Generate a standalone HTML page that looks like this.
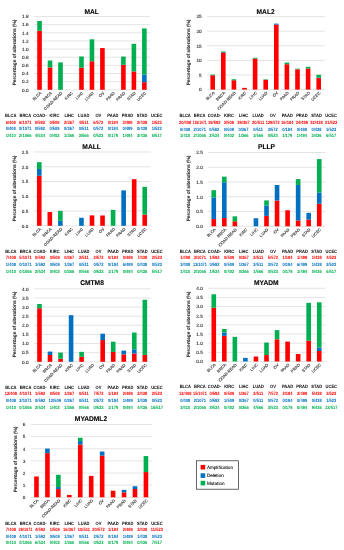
<!DOCTYPE html>
<html><head><meta charset="utf-8"><title>Alterations</title>
<style>
html,body{margin:0;padding:0;background:#fff;}
body{width:344px;height:550px;overflow:hidden;}
svg{display:block;font-family:'Liberation Sans', Arial, sans-serif;text-rendering:geometricPrecision;}
.gl{stroke:#D9D9D9;stroke-width:0.7;}
.tk{font-size:4.7px;fill:#262626;stroke:#262626;stroke-width:0.1;text-anchor:end;}
.xl{font-size:4.0px;fill:#404040;stroke:#404040;stroke-width:0.15;text-anchor:end;}
.tt{font-size:7.0px;font-weight:bold;fill:#000;text-anchor:middle;stroke:#000;stroke-width:0.12;}
.yl{font-size:4.78px;font-weight:bold;fill:#262626;stroke:#262626;stroke-width:0.08;text-anchor:middle;}
.th,.tr,.tb,.tg{font-size:4.6px;font-weight:bold;text-anchor:middle;}
.th{fill:#000;}
.tr{fill:#FF0000;}
.tb{fill:#0070C0;}
.tg{fill:#00B050;}
.lg{font-size:4.6px;fill:#000;stroke:#000;stroke-width:0.08;}
</style></head>
<body>
<svg width="344" height="550" viewBox="0 0 344 550">
<rect width="344" height="550" fill="#fff"/>
<line x1="34.1" y1="89.8" x2="150.3" y2="89.8" class="gl"/>
<text x="28.6" y="91.6" class="tk">0.0</text>
<line x1="34.1" y1="81.66" x2="150.3" y2="81.66" class="gl"/>
<text x="28.6" y="83.46" class="tk">0.2</text>
<line x1="34.1" y1="73.51" x2="150.3" y2="73.51" class="gl"/>
<text x="28.6" y="75.31" class="tk">0.4</text>
<line x1="34.1" y1="65.37" x2="150.3" y2="65.37" class="gl"/>
<text x="28.6" y="67.17" class="tk">0.6</text>
<line x1="34.1" y1="57.22" x2="150.3" y2="57.22" class="gl"/>
<text x="28.6" y="59.02" class="tk">0.8</text>
<line x1="34.1" y1="49.08" x2="150.3" y2="49.08" class="gl"/>
<text x="28.6" y="50.88" class="tk">1.0</text>
<line x1="34.1" y1="40.93" x2="150.3" y2="40.93" class="gl"/>
<text x="28.6" y="42.73" class="tk">1.2</text>
<line x1="34.1" y1="32.79" x2="150.3" y2="32.79" class="gl"/>
<text x="28.6" y="34.59" class="tk">1.4</text>
<line x1="34.1" y1="24.64" x2="150.3" y2="24.64" class="gl"/>
<text x="28.6" y="26.44" class="tk">1.6</text>
<line x1="34.1" y1="16.5" x2="150.3" y2="16.5" class="gl"/>
<text x="28.6" y="18.3" class="tk">1.8</text>
<rect x="37.24" y="30.75" width="4.6" height="59.05" fill="#FF0000"/>
<rect x="37.24" y="20.98" width="4.6" height="9.77" fill="#00B050"/>
<text class="xl" transform="translate(41.64 93.4) rotate(-45)">BLCA</text>
<rect x="47.72" y="67.4" width="4.6" height="22.4" fill="#FF0000"/>
<rect x="47.72" y="60.48" width="4.6" height="6.92" fill="#00B050"/>
<text class="xl" transform="translate(52.12 93.4) rotate(-45)">BRCA</text>
<rect x="58.2" y="62.38" width="4.6" height="27.42" fill="#00B050"/>
<text class="xl" transform="translate(62.6 93.4) rotate(-45)">COAD-READ</text>
<text class="xl" transform="translate(73.09 93.4) rotate(-45)">KIRC</text>
<rect x="79.17" y="67.61" width="4.6" height="22.19" fill="#FF0000"/>
<rect x="79.17" y="56.48" width="4.6" height="11.13" fill="#00B050"/>
<text class="xl" transform="translate(83.57 93.4) rotate(-45)">LIHC</text>
<rect x="89.65" y="61.29" width="4.6" height="28.51" fill="#FF0000"/>
<rect x="89.65" y="39.3" width="4.6" height="21.99" fill="#00B050"/>
<text class="xl" transform="translate(94.05 93.4) rotate(-45)">LUAD</text>
<rect x="100.13" y="48.06" width="4.6" height="41.74" fill="#FF0000"/>
<text class="xl" transform="translate(104.53 93.4) rotate(-45)">OV</text>
<text class="xl" transform="translate(115.01 93.4) rotate(-45)">PAAD</text>
<rect x="121.1" y="64.82" width="4.6" height="24.98" fill="#FF0000"/>
<rect x="121.1" y="56.57" width="4.6" height="8.24" fill="#00B050"/>
<text class="xl" transform="translate(125.5 93.4) rotate(-45)">PRAD</text>
<rect x="131.58" y="71.47" width="4.6" height="18.32" fill="#FF0000"/>
<rect x="131.58" y="43.78" width="4.6" height="27.69" fill="#00B050"/>
<text class="xl" transform="translate(135.98 93.4) rotate(-45)">STAD</text>
<rect x="142.06" y="82.18" width="4.6" height="7.62" fill="#FF0000"/>
<rect x="142.06" y="74.45" width="4.6" height="7.74" fill="#0070C0"/>
<rect x="142.06" y="28.43" width="4.6" height="46.02" fill="#00B050"/>
<text class="xl" transform="translate(146.46 93.4) rotate(-45)">UCEC</text>
<text class="tt" transform="translate(91.6 13.5) scale(0.95 1)">MAL</text>
<text class="yl" transform="translate(15.9 52.5) rotate(-90)">Percentage of alterations (%)</text>
<text class="th" transform="translate(10.7 116.7) scale(0.88 1)">BLCA</text>
<text class="tr" transform="translate(10.7 123.7) scale(0.88 1)">6/408</text>
<text class="tb" transform="translate(10.7 130.3) scale(0.88 1)">0/408</text>
<text class="tg" transform="translate(10.7 136.9) scale(0.88 1)">1/410</text>
<text class="th" transform="translate(25.3 116.7) scale(0.88 1)">BRCA</text>
<text class="tr" transform="translate(25.3 123.7) scale(0.88 1)">6/1071</text>
<text class="tb" transform="translate(25.3 130.3) scale(0.88 1)">0/1071</text>
<text class="tg" transform="translate(25.3 136.9) scale(0.88 1)">2/1066</text>
<text class="th" transform="translate(39.9 116.7) scale(0.88 1)">COAD-</text>
<text class="tr" transform="translate(39.9 123.7) scale(0.88 1)">0/592</text>
<text class="tb" transform="translate(39.9 130.3) scale(0.88 1)">0/592</text>
<text class="tg" transform="translate(39.9 136.9) scale(0.88 1)">4/534</text>
<text class="th" transform="translate(54.5 116.7) scale(0.88 1)">KIRC</text>
<text class="tr" transform="translate(54.5 123.7) scale(0.88 1)">0/509</text>
<text class="tb" transform="translate(54.5 130.3) scale(0.88 1)">0/509</text>
<text class="tg" transform="translate(54.5 136.9) scale(0.88 1)">0/402</text>
<text class="th" transform="translate(69.1 116.7) scale(0.88 1)">LIHC</text>
<text class="tr" transform="translate(69.1 123.7) scale(0.88 1)">2/367</text>
<text class="tb" transform="translate(69.1 130.3) scale(0.88 1)">0/367</text>
<text class="tg" transform="translate(69.1 136.9) scale(0.88 1)">1/366</text>
<text class="th" transform="translate(83.7 116.7) scale(0.88 1)">LUAD</text>
<text class="tr" transform="translate(83.7 123.7) scale(0.88 1)">4/511</text>
<text class="tb" transform="translate(83.7 130.3) scale(0.88 1)">0/511</text>
<text class="tg" transform="translate(83.7 136.9) scale(0.88 1)">3/566</text>
<text class="th" transform="translate(98.3 116.7) scale(0.88 1)">OV</text>
<text class="tr" transform="translate(98.3 123.7) scale(0.88 1)">6/572</text>
<text class="tb" transform="translate(98.3 130.3) scale(0.88 1)">0/572</text>
<text class="tg" transform="translate(98.3 136.9) scale(0.88 1)">0/523</text>
<text class="th" transform="translate(112.9 116.7) scale(0.88 1)">PAAD</text>
<text class="tr" transform="translate(112.9 123.7) scale(0.88 1)">0/184</text>
<text class="tb" transform="translate(112.9 130.3) scale(0.88 1)">0/184</text>
<text class="tg" transform="translate(112.9 136.9) scale(0.88 1)">0/179</text>
<text class="th" transform="translate(127.5 116.7) scale(0.88 1)">PRAD</text>
<text class="tr" transform="translate(127.5 123.7) scale(0.88 1)">3/489</text>
<text class="tb" transform="translate(127.5 130.3) scale(0.88 1)">0/489</text>
<text class="tg" transform="translate(127.5 136.9) scale(0.88 1)">1/494</text>
<text class="th" transform="translate(142.1 116.7) scale(0.88 1)">STAD</text>
<text class="tr" transform="translate(142.1 123.7) scale(0.88 1)">2/438</text>
<text class="tb" transform="translate(142.1 130.3) scale(0.88 1)">0/438</text>
<text class="tg" transform="translate(142.1 136.9) scale(0.88 1)">3/436</text>
<text class="th" transform="translate(156.7 116.7) scale(0.88 1)">UCEC</text>
<text class="tr" transform="translate(156.7 123.7) scale(0.88 1)">1/523</text>
<text class="tb" transform="translate(156.7 130.3) scale(0.88 1)">1/523</text>
<text class="tg" transform="translate(156.7 136.9) scale(0.88 1)">6/517</text>
<line x1="207.2" y1="89.6" x2="324.7" y2="89.6" class="gl"/>
<text x="201.7" y="91.4" class="tk">0</text>
<line x1="207.2" y1="75" x2="324.7" y2="75" class="gl"/>
<text x="201.7" y="76.8" class="tk">5</text>
<line x1="207.2" y1="60.4" x2="324.7" y2="60.4" class="gl"/>
<text x="201.7" y="62.2" class="tk">10</text>
<line x1="207.2" y1="45.8" x2="324.7" y2="45.8" class="gl"/>
<text x="201.7" y="47.6" class="tk">15</text>
<line x1="207.2" y1="31.2" x2="324.7" y2="31.2" class="gl"/>
<text x="201.7" y="33" class="tk">20</text>
<line x1="207.2" y1="16.6" x2="324.7" y2="16.6" class="gl"/>
<text x="201.7" y="18.4" class="tk">25</text>
<rect x="210.4" y="75.29" width="4.6" height="14.31" fill="#FF0000"/>
<rect x="210.4" y="74.57" width="4.6" height="0.71" fill="#00B050"/>
<text class="xl" transform="translate(214.8 93.2) rotate(-45)">BLCA</text>
<rect x="221" y="52.52" width="4.6" height="37.08" fill="#FF0000"/>
<rect x="221" y="51.98" width="4.6" height="0.55" fill="#0070C0"/>
<rect x="221" y="51.43" width="4.6" height="0.55" fill="#00B050"/>
<text class="xl" transform="translate(225.4 93.2) rotate(-45)">BRCA</text>
<rect x="231.6" y="80.23" width="4.6" height="9.37" fill="#FF0000"/>
<rect x="231.6" y="79.25" width="4.6" height="0.98" fill="#00B050"/>
<text class="xl" transform="translate(236 93.2) rotate(-45)">COAD-READ</text>
<rect x="242.2" y="87.88" width="4.6" height="1.72" fill="#FF0000"/>
<text class="xl" transform="translate(246.6 93.2) rotate(-45)">KIRC</text>
<rect x="252.8" y="58.57" width="4.6" height="31.03" fill="#FF0000"/>
<rect x="252.8" y="57.77" width="4.6" height="0.8" fill="#00B050"/>
<text class="xl" transform="translate(257.2 93.2) rotate(-45)">LIHC</text>
<rect x="263.4" y="79.82" width="4.6" height="9.78" fill="#FF0000"/>
<rect x="263.4" y="79.32" width="4.6" height="0.5" fill="#00B050"/>
<text class="xl" transform="translate(267.8 93.2) rotate(-45)">LUAD</text>
<rect x="274" y="24.63" width="4.6" height="64.97" fill="#FF0000"/>
<rect x="274" y="23.61" width="4.6" height="1.02" fill="#0070C0"/>
<text class="xl" transform="translate(278.4 93.2) rotate(-45)">OV</text>
<rect x="284.6" y="64.21" width="4.6" height="25.39" fill="#FF0000"/>
<rect x="284.6" y="62.58" width="4.6" height="1.63" fill="#00B050"/>
<text class="xl" transform="translate(289 93.2) rotate(-45)">PAAD</text>
<rect x="295.2" y="69.3" width="4.6" height="20.3" fill="#FF0000"/>
<rect x="295.2" y="68.71" width="4.6" height="0.59" fill="#00B050"/>
<text class="xl" transform="translate(299.6 93.2) rotate(-45)">PRAD</text>
<rect x="305.8" y="68.58" width="4.6" height="21.02" fill="#FF0000"/>
<rect x="305.8" y="66.82" width="4.6" height="1.75" fill="#00B050"/>
<text class="xl" transform="translate(310.2 93.2) rotate(-45)">STAD</text>
<rect x="316.4" y="78.07" width="4.6" height="11.53" fill="#FF0000"/>
<rect x="316.4" y="77.51" width="4.6" height="0.55" fill="#0070C0"/>
<rect x="316.4" y="74.8" width="4.6" height="2.72" fill="#00B050"/>
<text class="xl" transform="translate(320.8 93.2) rotate(-45)">UCEC</text>
<text class="tt" transform="translate(265.6 13.5) scale(0.95 1)">MAL2</text>
<text class="yl" transform="translate(190.1 52.5) rotate(-90)">Percentage of alterations (%)</text>
<text class="th" transform="translate(185.1 116.9) scale(0.88 1)">BLCA</text>
<text class="tr" transform="translate(185.1 123.9) scale(0.88 1)">20/408</text>
<text class="tb" transform="translate(185.1 130.6) scale(0.88 1)">0/408</text>
<text class="tg" transform="translate(185.1 137.1) scale(0.88 1)">1/410</text>
<text class="th" transform="translate(199.7 116.9) scale(0.88 1)">BRCA</text>
<text class="tr" transform="translate(199.7 123.9) scale(0.72 1)">136/1071</text>
<text class="tb" transform="translate(199.7 130.6) scale(0.88 1)">2/1071</text>
<text class="tg" transform="translate(199.7 137.1) scale(0.88 1)">2/1066</text>
<text class="th" transform="translate(214.3 116.9) scale(0.88 1)">COAD-</text>
<text class="tr" transform="translate(214.3 123.9) scale(0.88 1)">19/592</text>
<text class="tb" transform="translate(214.3 130.6) scale(0.88 1)">0/592</text>
<text class="tg" transform="translate(214.3 137.1) scale(0.88 1)">2/534</text>
<text class="th" transform="translate(228.9 116.9) scale(0.88 1)">KIRC</text>
<text class="tr" transform="translate(228.9 123.9) scale(0.88 1)">3/509</text>
<text class="tb" transform="translate(228.9 130.6) scale(0.88 1)">0/509</text>
<text class="tg" transform="translate(228.9 137.1) scale(0.88 1)">0/402</text>
<text class="th" transform="translate(243.5 116.9) scale(0.88 1)">LIHC</text>
<text class="tr" transform="translate(243.5 123.9) scale(0.88 1)">39/367</text>
<text class="tb" transform="translate(243.5 130.6) scale(0.88 1)">0/367</text>
<text class="tg" transform="translate(243.5 137.1) scale(0.88 1)">1/366</text>
<text class="th" transform="translate(258.1 116.9) scale(0.88 1)">LUAD</text>
<text class="tr" transform="translate(258.1 123.9) scale(0.88 1)">20/511</text>
<text class="tb" transform="translate(258.1 130.6) scale(0.88 1)">0/511</text>
<text class="tg" transform="translate(258.1 137.1) scale(0.88 1)">1/566</text>
<text class="th" transform="translate(272.7 116.9) scale(0.88 1)">OV</text>
<text class="tr" transform="translate(272.7 123.9) scale(0.83 1)">129/572</text>
<text class="tb" transform="translate(272.7 130.6) scale(0.88 1)">3/572</text>
<text class="tg" transform="translate(272.7 137.1) scale(0.88 1)">0/523</text>
<text class="th" transform="translate(287.3 116.9) scale(0.88 1)">PAAD</text>
<text class="tr" transform="translate(287.3 123.9) scale(0.88 1)">16/184</text>
<text class="tb" transform="translate(287.3 130.6) scale(0.88 1)">0/184</text>
<text class="tg" transform="translate(287.3 137.1) scale(0.88 1)">1/179</text>
<text class="th" transform="translate(301.9 116.9) scale(0.88 1)">PRAD</text>
<text class="tr" transform="translate(301.9 123.9) scale(0.88 1)">34/489</text>
<text class="tb" transform="translate(301.9 130.6) scale(0.88 1)">0/489</text>
<text class="tg" transform="translate(301.9 137.1) scale(0.88 1)">1/494</text>
<text class="th" transform="translate(316.5 116.9) scale(0.88 1)">STAD</text>
<text class="tr" transform="translate(316.5 123.9) scale(0.88 1)">32/438</text>
<text class="tb" transform="translate(316.5 130.6) scale(0.88 1)">0/438</text>
<text class="tg" transform="translate(316.5 137.1) scale(0.88 1)">3/436</text>
<text class="th" transform="translate(331.1 116.9) scale(0.88 1)">UCEC</text>
<text class="tr" transform="translate(331.1 123.9) scale(0.88 1)">21/523</text>
<text class="tb" transform="translate(331.1 130.6) scale(0.88 1)">1/523</text>
<text class="tg" transform="translate(331.1 137.1) scale(0.88 1)">6/517</text>
<line x1="33.8" y1="225.8" x2="150.7" y2="225.8" class="gl"/>
<text x="28.3" y="227.6" class="tk">0.0</text>
<line x1="33.8" y1="211.04" x2="150.7" y2="211.04" class="gl"/>
<text x="28.3" y="212.84" class="tk">0.5</text>
<line x1="33.8" y1="196.28" x2="150.7" y2="196.28" class="gl"/>
<text x="28.3" y="198.08" class="tk">1.0</text>
<line x1="33.8" y1="181.52" x2="150.7" y2="181.52" class="gl"/>
<text x="28.3" y="183.32" class="tk">1.5</text>
<line x1="33.8" y1="166.76" x2="150.7" y2="166.76" class="gl"/>
<text x="28.3" y="168.56" class="tk">2.0</text>
<line x1="33.8" y1="152" x2="150.7" y2="152" class="gl"/>
<text x="28.3" y="153.8" class="tk">2.5</text>
<rect x="36.97" y="175.76" width="4.6" height="50.04" fill="#FF0000"/>
<rect x="36.97" y="168.97" width="4.6" height="6.79" fill="#0070C0"/>
<rect x="36.97" y="162.18" width="4.6" height="6.79" fill="#00B050"/>
<text class="xl" transform="translate(41.37 229.4) rotate(-45)">BLCA</text>
<rect x="47.52" y="212.02" width="4.6" height="13.78" fill="#FF0000"/>
<text class="xl" transform="translate(51.92 229.4) rotate(-45)">BRCA</text>
<rect x="58.06" y="220.81" width="4.6" height="4.99" fill="#0070C0"/>
<rect x="58.06" y="210.87" width="4.6" height="9.94" fill="#00B050"/>
<text class="xl" transform="translate(62.46 229.4) rotate(-45)">COAD-READ</text>
<text class="xl" transform="translate(73.01 229.4) rotate(-45)">KIRC</text>
<rect x="79.15" y="217.76" width="4.6" height="8.04" fill="#0070C0"/>
<text class="xl" transform="translate(83.55 229.4) rotate(-45)">LIHC</text>
<rect x="89.7" y="215.37" width="4.6" height="10.43" fill="#FF0000"/>
<text class="xl" transform="translate(94.1 229.4) rotate(-45)">LUAD</text>
<rect x="100.25" y="215.48" width="4.6" height="10.32" fill="#FF0000"/>
<text class="xl" transform="translate(104.65 229.4) rotate(-45)">OV</text>
<rect x="110.79" y="209.86" width="4.6" height="15.94" fill="#00B050"/>
<text class="xl" transform="translate(115.19 229.4) rotate(-45)">PAAD</text>
<rect x="121.34" y="190.38" width="4.6" height="35.42" fill="#0070C0"/>
<text class="xl" transform="translate(125.74 229.4) rotate(-45)">PRAD</text>
<rect x="131.88" y="179.16" width="4.6" height="46.64" fill="#FF0000"/>
<text class="xl" transform="translate(136.28 229.4) rotate(-45)">STAD</text>
<rect x="142.43" y="214.58" width="4.6" height="11.22" fill="#FF0000"/>
<rect x="142.43" y="186.83" width="4.6" height="27.75" fill="#00B050"/>
<text class="xl" transform="translate(146.83 229.4) rotate(-45)">UCEC</text>
<text class="tt" transform="translate(91.6 149) scale(0.95 1)">MALL</text>
<text class="yl" transform="translate(15.9 188.5) rotate(-90)">Percentage of alterations (%)</text>
<text class="th" transform="translate(10.9 252.7) scale(0.88 1)">BLCA</text>
<text class="tr" transform="translate(10.9 259.2) scale(0.88 1)">7/408</text>
<text class="tb" transform="translate(10.9 266.1) scale(0.88 1)">1/408</text>
<text class="tg" transform="translate(10.9 273.1) scale(0.88 1)">1/410</text>
<text class="th" transform="translate(25.5 252.7) scale(0.88 1)">BRCA</text>
<text class="tr" transform="translate(25.5 259.2) scale(0.88 1)">5/1071</text>
<text class="tb" transform="translate(25.5 266.1) scale(0.88 1)">0/1071</text>
<text class="tg" transform="translate(25.5 273.1) scale(0.88 1)">0/1066</text>
<text class="th" transform="translate(40.1 252.7) scale(0.88 1)">COAD-</text>
<text class="tr" transform="translate(40.1 259.2) scale(0.88 1)">0/592</text>
<text class="tb" transform="translate(40.1 266.1) scale(0.88 1)">1/592</text>
<text class="tg" transform="translate(40.1 273.1) scale(0.88 1)">2/534</text>
<text class="th" transform="translate(54.7 252.7) scale(0.88 1)">KIRC</text>
<text class="tr" transform="translate(54.7 259.2) scale(0.88 1)">0/509</text>
<text class="tb" transform="translate(54.7 266.1) scale(0.88 1)">0/509</text>
<text class="tg" transform="translate(54.7 273.1) scale(0.88 1)">0/402</text>
<text class="th" transform="translate(69.3 252.7) scale(0.88 1)">LIHC</text>
<text class="tr" transform="translate(69.3 259.2) scale(0.88 1)">0/367</text>
<text class="tb" transform="translate(69.3 266.1) scale(0.88 1)">1/367</text>
<text class="tg" transform="translate(69.3 273.1) scale(0.88 1)">0/366</text>
<text class="th" transform="translate(83.9 252.7) scale(0.88 1)">LUAD</text>
<text class="tr" transform="translate(83.9 259.2) scale(0.88 1)">2/511</text>
<text class="tb" transform="translate(83.9 266.1) scale(0.88 1)">0/511</text>
<text class="tg" transform="translate(83.9 273.1) scale(0.88 1)">0/566</text>
<text class="th" transform="translate(98.5 252.7) scale(0.88 1)">OV</text>
<text class="tr" transform="translate(98.5 259.2) scale(0.88 1)">2/572</text>
<text class="tb" transform="translate(98.5 266.1) scale(0.88 1)">0/572</text>
<text class="tg" transform="translate(98.5 273.1) scale(0.88 1)">0/523</text>
<text class="th" transform="translate(113.1 252.7) scale(0.88 1)">PAAD</text>
<text class="tr" transform="translate(113.1 259.2) scale(0.88 1)">0/184</text>
<text class="tb" transform="translate(113.1 266.1) scale(0.88 1)">0/184</text>
<text class="tg" transform="translate(113.1 273.1) scale(0.88 1)">1/179</text>
<text class="th" transform="translate(127.7 252.7) scale(0.88 1)">PRAD</text>
<text class="tr" transform="translate(127.7 259.2) scale(0.88 1)">0/489</text>
<text class="tb" transform="translate(127.7 266.1) scale(0.88 1)">6/489</text>
<text class="tg" transform="translate(127.7 273.1) scale(0.88 1)">0/494</text>
<text class="th" transform="translate(142.3 252.7) scale(0.88 1)">STAD</text>
<text class="tr" transform="translate(142.3 259.2) scale(0.88 1)">7/438</text>
<text class="tb" transform="translate(142.3 266.1) scale(0.88 1)">0/438</text>
<text class="tg" transform="translate(142.3 273.1) scale(0.88 1)">0/436</text>
<text class="th" transform="translate(156.9 252.7) scale(0.88 1)">UCEC</text>
<text class="tr" transform="translate(156.9 259.2) scale(0.88 1)">2/523</text>
<text class="tb" transform="translate(156.9 266.1) scale(0.88 1)">0/523</text>
<text class="tg" transform="translate(156.9 273.1) scale(0.88 1)">5/517</text>
<line x1="208.3" y1="226.3" x2="325.2" y2="226.3" class="gl"/>
<text x="202.8" y="228.1" class="tk">0.0</text>
<line x1="208.3" y1="211.54" x2="325.2" y2="211.54" class="gl"/>
<text x="202.8" y="213.34" class="tk">0.5</text>
<line x1="208.3" y1="196.78" x2="325.2" y2="196.78" class="gl"/>
<text x="202.8" y="198.58" class="tk">1.0</text>
<line x1="208.3" y1="182.02" x2="325.2" y2="182.02" class="gl"/>
<text x="202.8" y="183.82" class="tk">1.5</text>
<line x1="208.3" y1="167.26" x2="325.2" y2="167.26" class="gl"/>
<text x="202.8" y="169.06" class="tk">2.0</text>
<line x1="208.3" y1="152.5" x2="325.2" y2="152.5" class="gl"/>
<text x="202.8" y="154.3" class="tk">2.5</text>
<rect x="211.47" y="219.06" width="4.6" height="7.24" fill="#FF0000"/>
<rect x="211.47" y="197.36" width="4.6" height="21.71" fill="#0070C0"/>
<rect x="211.47" y="190.16" width="4.6" height="7.2" fill="#00B050"/>
<text class="xl" transform="translate(215.87 229.9) rotate(-45)">BLCA</text>
<rect x="222.02" y="218.03" width="4.6" height="8.27" fill="#FF0000"/>
<rect x="222.02" y="182.2" width="4.6" height="35.83" fill="#0070C0"/>
<rect x="222.02" y="176.66" width="4.6" height="5.54" fill="#00B050"/>
<text class="xl" transform="translate(226.42 229.9) rotate(-45)">BRCA</text>
<rect x="232.56" y="221.31" width="4.6" height="4.99" fill="#FF0000"/>
<rect x="232.56" y="216.34" width="4.6" height="4.97" fill="#00B050"/>
<text class="xl" transform="translate(236.96 229.9) rotate(-45)">COAD-READ</text>
<text class="xl" transform="translate(247.51 229.9) rotate(-45)">KIRC</text>
<rect x="253.65" y="218.26" width="4.6" height="8.04" fill="#0070C0"/>
<text class="xl" transform="translate(258.05 229.9) rotate(-45)">LIHC</text>
<rect x="264.2" y="215.87" width="4.6" height="10.43" fill="#FF0000"/>
<rect x="264.2" y="205.44" width="4.6" height="10.43" fill="#0070C0"/>
<rect x="264.2" y="200.4" width="4.6" height="5.04" fill="#00B050"/>
<text class="xl" transform="translate(268.6 229.9) rotate(-45)">LUAD</text>
<rect x="274.75" y="200.5" width="4.6" height="25.8" fill="#FF0000"/>
<rect x="274.75" y="185.01" width="4.6" height="15.48" fill="#0070C0"/>
<text class="xl" transform="translate(279.15 229.9) rotate(-45)">OV</text>
<rect x="285.29" y="210.26" width="4.6" height="16.04" fill="#FF0000"/>
<text class="xl" transform="translate(289.69 229.9) rotate(-45)">PAAD</text>
<rect x="295.84" y="220.4" width="4.6" height="5.9" fill="#FF0000"/>
<rect x="295.84" y="184.97" width="4.6" height="35.42" fill="#0070C0"/>
<rect x="295.84" y="179.07" width="4.6" height="5.9" fill="#00B050"/>
<text class="xl" transform="translate(300.24 229.9) rotate(-45)">PRAD</text>
<rect x="306.38" y="219.56" width="4.6" height="6.74" fill="#FF0000"/>
<rect x="306.38" y="212.82" width="4.6" height="6.74" fill="#0070C0"/>
<text class="xl" transform="translate(310.78 229.9) rotate(-45)">STAD</text>
<rect x="316.93" y="203.72" width="4.6" height="22.58" fill="#FF0000"/>
<rect x="316.93" y="192.44" width="4.6" height="11.28" fill="#0070C0"/>
<rect x="316.93" y="159.08" width="4.6" height="33.36" fill="#00B050"/>
<text class="xl" transform="translate(321.33 229.9) rotate(-45)">UCEC</text>
<text class="tt" transform="translate(266.5 149) scale(0.95 1)">PLLP</text>
<text class="yl" transform="translate(190.1 188.5) rotate(-90)">Percentage of alterations (%)</text>
<text class="th" transform="translate(185.3 252.7) scale(0.88 1)">BLCA</text>
<text class="tr" transform="translate(185.3 259.2) scale(0.88 1)">1/408</text>
<text class="tb" transform="translate(185.3 266.1) scale(0.88 1)">3/408</text>
<text class="tg" transform="translate(185.3 273.1) scale(0.88 1)">1/410</text>
<text class="th" transform="translate(199.9 252.7) scale(0.88 1)">BRCA</text>
<text class="tr" transform="translate(199.9 259.2) scale(0.88 1)">3/1071</text>
<text class="tb" transform="translate(199.9 266.1) scale(0.83 1)">13/1071</text>
<text class="tg" transform="translate(199.9 273.1) scale(0.88 1)">2/1066</text>
<text class="th" transform="translate(214.5 252.7) scale(0.88 1)">COAD-</text>
<text class="tr" transform="translate(214.5 259.2) scale(0.88 1)">1/592</text>
<text class="tb" transform="translate(214.5 266.1) scale(0.88 1)">0/592</text>
<text class="tg" transform="translate(214.5 273.1) scale(0.88 1)">1/534</text>
<text class="th" transform="translate(229.1 252.7) scale(0.88 1)">KIRC</text>
<text class="tr" transform="translate(229.1 259.2) scale(0.88 1)">0/509</text>
<text class="tb" transform="translate(229.1 266.1) scale(0.88 1)">0/509</text>
<text class="tg" transform="translate(229.1 273.1) scale(0.88 1)">0/402</text>
<text class="th" transform="translate(243.7 252.7) scale(0.88 1)">LIHC</text>
<text class="tr" transform="translate(243.7 259.2) scale(0.88 1)">0/367</text>
<text class="tb" transform="translate(243.7 266.1) scale(0.88 1)">1/367</text>
<text class="tg" transform="translate(243.7 273.1) scale(0.88 1)">0/366</text>
<text class="th" transform="translate(258.3 252.7) scale(0.88 1)">LUAD</text>
<text class="tr" transform="translate(258.3 259.2) scale(0.88 1)">2/511</text>
<text class="tb" transform="translate(258.3 266.1) scale(0.88 1)">2/511</text>
<text class="tg" transform="translate(258.3 273.1) scale(0.88 1)">1/566</text>
<text class="th" transform="translate(272.9 252.7) scale(0.88 1)">OV</text>
<text class="tr" transform="translate(272.9 259.2) scale(0.88 1)">5/572</text>
<text class="tb" transform="translate(272.9 266.1) scale(0.88 1)">3/572</text>
<text class="tg" transform="translate(272.9 273.1) scale(0.88 1)">0/523</text>
<text class="th" transform="translate(287.5 252.7) scale(0.88 1)">PAAD</text>
<text class="tr" transform="translate(287.5 259.2) scale(0.88 1)">1/184</text>
<text class="tb" transform="translate(287.5 266.1) scale(0.88 1)">0/184</text>
<text class="tg" transform="translate(287.5 273.1) scale(0.88 1)">0/179</text>
<text class="th" transform="translate(302.1 252.7) scale(0.88 1)">PRAD</text>
<text class="tr" transform="translate(302.1 259.2) scale(0.88 1)">1/489</text>
<text class="tb" transform="translate(302.1 266.1) scale(0.88 1)">6/489</text>
<text class="tg" transform="translate(302.1 273.1) scale(0.88 1)">1/494</text>
<text class="th" transform="translate(316.7 252.7) scale(0.88 1)">STAD</text>
<text class="tr" transform="translate(316.7 259.2) scale(0.88 1)">1/438</text>
<text class="tb" transform="translate(316.7 266.1) scale(0.88 1)">1/438</text>
<text class="tg" transform="translate(316.7 273.1) scale(0.88 1)">0/436</text>
<text class="th" transform="translate(331.3 252.7) scale(0.88 1)">UCEC</text>
<text class="tr" transform="translate(331.3 259.2) scale(0.88 1)">4/523</text>
<text class="tb" transform="translate(331.3 266.1) scale(0.88 1)">2/523</text>
<text class="tg" transform="translate(331.3 273.1) scale(0.88 1)">6/517</text>
<line x1="34" y1="361.8" x2="150.8" y2="361.8" class="gl"/>
<text x="28.5" y="363.6" class="tk">0.0</text>
<line x1="34" y1="352.68" x2="150.8" y2="352.68" class="gl"/>
<text x="28.5" y="354.48" class="tk">0.5</text>
<line x1="34" y1="343.55" x2="150.8" y2="343.55" class="gl"/>
<text x="28.5" y="345.35" class="tk">1.0</text>
<line x1="34" y1="334.43" x2="150.8" y2="334.43" class="gl"/>
<text x="28.5" y="336.23" class="tk">1.5</text>
<line x1="34" y1="325.3" x2="150.8" y2="325.3" class="gl"/>
<text x="28.5" y="327.1" class="tk">2.0</text>
<line x1="34" y1="316.18" x2="150.8" y2="316.18" class="gl"/>
<text x="28.5" y="317.98" class="tk">2.5</text>
<line x1="34" y1="307.05" x2="150.8" y2="307.05" class="gl"/>
<text x="28.5" y="308.85" class="tk">3.0</text>
<line x1="34" y1="297.93" x2="150.8" y2="297.93" class="gl"/>
<text x="28.5" y="299.73" class="tk">3.5</text>
<line x1="34" y1="288.8" x2="150.8" y2="288.8" class="gl"/>
<text x="28.5" y="290.6" class="tk">4.0</text>
<rect x="37.17" y="308.25" width="4.6" height="53.55" fill="#FF0000"/>
<rect x="37.17" y="304" width="4.6" height="4.25" fill="#00B050"/>
<text class="xl" transform="translate(41.57 365.4) rotate(-45)">BLCA</text>
<rect x="47.7" y="354.98" width="4.6" height="6.82" fill="#FF0000"/>
<rect x="47.7" y="351.58" width="4.6" height="3.41" fill="#0070C0"/>
<text class="xl" transform="translate(52.1 365.4) rotate(-45)">BRCA</text>
<rect x="58.24" y="358.72" width="4.6" height="3.08" fill="#FF0000"/>
<rect x="58.24" y="352.57" width="4.6" height="6.14" fill="#00B050"/>
<text class="xl" transform="translate(62.64 365.4) rotate(-45)">COAD-READ</text>
<rect x="68.78" y="315.19" width="4.6" height="46.61" fill="#0070C0"/>
<text class="xl" transform="translate(73.18 365.4) rotate(-45)">KIRC</text>
<rect x="79.31" y="356.83" width="4.6" height="4.97" fill="#FF0000"/>
<rect x="79.31" y="351.84" width="4.6" height="4.99" fill="#00B050"/>
<text class="xl" transform="translate(83.71 365.4) rotate(-45)">LIHC</text>
<text class="xl" transform="translate(94.25 365.4) rotate(-45)">LUAD</text>
<rect x="100.39" y="340.08" width="4.6" height="21.72" fill="#FF0000"/>
<rect x="100.39" y="333.69" width="4.6" height="6.39" fill="#0070C0"/>
<text class="xl" transform="translate(104.79 365.4) rotate(-45)">OV</text>
<rect x="110.92" y="351.88" width="4.6" height="9.92" fill="#FF0000"/>
<rect x="110.92" y="341.69" width="4.6" height="10.2" fill="#00B050"/>
<text class="xl" transform="translate(115.32 365.4) rotate(-45)">PAAD</text>
<rect x="121.46" y="354.34" width="4.6" height="7.46" fill="#FF0000"/>
<rect x="121.46" y="350.6" width="4.6" height="3.73" fill="#0070C0"/>
<text class="xl" transform="translate(125.86 365.4) rotate(-45)">PRAD</text>
<rect x="132" y="353.47" width="4.6" height="8.33" fill="#FF0000"/>
<rect x="132" y="349.3" width="4.6" height="4.17" fill="#0070C0"/>
<rect x="132" y="332.56" width="4.6" height="16.74" fill="#00B050"/>
<text class="xl" transform="translate(136.4 365.4) rotate(-45)">STAD</text>
<rect x="142.53" y="354.87" width="4.6" height="6.94" fill="#FF0000"/>
<rect x="142.53" y="299.75" width="4.6" height="55.12" fill="#00B050"/>
<text class="xl" transform="translate(146.93 365.4) rotate(-45)">UCEC</text>
<text class="tt" transform="translate(92 284.8) scale(0.95 1)">CMTM8</text>
<text class="yl" transform="translate(15.9 324.5) rotate(-90)">Percentage of alterations (%)</text>
<text class="th" transform="translate(10.9 388.6) scale(0.88 1)">BLCA</text>
<text class="tr" transform="translate(10.9 395) scale(0.88 1)">12/408</text>
<text class="tb" transform="translate(10.9 401.8) scale(0.88 1)">0/408</text>
<text class="tg" transform="translate(10.9 408.6) scale(0.88 1)">1/410</text>
<text class="th" transform="translate(25.5 388.6) scale(0.88 1)">BRCA</text>
<text class="tr" transform="translate(25.5 395) scale(0.88 1)">4/1071</text>
<text class="tb" transform="translate(25.5 401.8) scale(0.88 1)">2/1071</text>
<text class="tg" transform="translate(25.5 408.6) scale(0.88 1)">0/1066</text>
<text class="th" transform="translate(40.1 388.6) scale(0.88 1)">COAD-</text>
<text class="tr" transform="translate(40.1 395) scale(0.88 1)">1/592</text>
<text class="tb" transform="translate(40.1 401.8) scale(0.88 1)">0/592</text>
<text class="tg" transform="translate(40.1 408.6) scale(0.88 1)">2/534</text>
<text class="th" transform="translate(54.7 388.6) scale(0.88 1)">KIRC</text>
<text class="tr" transform="translate(54.7 395) scale(0.88 1)">0/509</text>
<text class="tb" transform="translate(54.7 401.8) scale(0.88 1)">13/509</text>
<text class="tg" transform="translate(54.7 408.6) scale(0.88 1)">1/402</text>
<text class="th" transform="translate(69.3 388.6) scale(0.88 1)">LIHC</text>
<text class="tr" transform="translate(69.3 395) scale(0.88 1)">1/367</text>
<text class="tb" transform="translate(69.3 401.8) scale(0.88 1)">0/367</text>
<text class="tg" transform="translate(69.3 408.6) scale(0.88 1)">1/366</text>
<text class="th" transform="translate(83.9 388.6) scale(0.88 1)">LUAD</text>
<text class="tr" transform="translate(83.9 395) scale(0.88 1)">0/511</text>
<text class="tb" transform="translate(83.9 401.8) scale(0.88 1)">0/511</text>
<text class="tg" transform="translate(83.9 408.6) scale(0.88 1)">0/566</text>
<text class="th" transform="translate(98.5 388.6) scale(0.88 1)">OV</text>
<text class="tr" transform="translate(98.5 395) scale(0.88 1)">7/572</text>
<text class="tb" transform="translate(98.5 401.8) scale(0.88 1)">2/572</text>
<text class="tg" transform="translate(98.5 408.6) scale(0.88 1)">0/523</text>
<text class="th" transform="translate(113.1 388.6) scale(0.88 1)">PAAD</text>
<text class="tr" transform="translate(113.1 395) scale(0.88 1)">1/184</text>
<text class="tb" transform="translate(113.1 401.8) scale(0.88 1)">0/184</text>
<text class="tg" transform="translate(113.1 408.6) scale(0.88 1)">1/179</text>
<text class="th" transform="translate(127.7 388.6) scale(0.88 1)">PRAD</text>
<text class="tr" transform="translate(127.7 395) scale(0.88 1)">2/489</text>
<text class="tb" transform="translate(127.7 401.8) scale(0.88 1)">1/489</text>
<text class="tg" transform="translate(127.7 408.6) scale(0.88 1)">0/494</text>
<text class="th" transform="translate(142.3 388.6) scale(0.88 1)">STAD</text>
<text class="tr" transform="translate(142.3 395) scale(0.88 1)">2/438</text>
<text class="tb" transform="translate(142.3 401.8) scale(0.88 1)">1/438</text>
<text class="tg" transform="translate(142.3 408.6) scale(0.88 1)">4/436</text>
<text class="th" transform="translate(156.9 388.6) scale(0.88 1)">UCEC</text>
<text class="tr" transform="translate(156.9 395) scale(0.88 1)">2/523</text>
<text class="tb" transform="translate(156.9 401.8) scale(0.88 1)">0/523</text>
<text class="tg" transform="translate(156.9 408.6) scale(0.88 1)">16/517</text>
<line x1="208.3" y1="361.5" x2="325.2" y2="361.5" class="gl"/>
<text x="202.8" y="363.3" class="tk">0.0</text>
<line x1="208.3" y1="352.35" x2="325.2" y2="352.35" class="gl"/>
<text x="202.8" y="354.15" class="tk">0.5</text>
<line x1="208.3" y1="343.2" x2="325.2" y2="343.2" class="gl"/>
<text x="202.8" y="345" class="tk">1.0</text>
<line x1="208.3" y1="334.05" x2="325.2" y2="334.05" class="gl"/>
<text x="202.8" y="335.85" class="tk">1.5</text>
<line x1="208.3" y1="324.9" x2="325.2" y2="324.9" class="gl"/>
<text x="202.8" y="326.7" class="tk">2.0</text>
<line x1="208.3" y1="315.75" x2="325.2" y2="315.75" class="gl"/>
<text x="202.8" y="317.55" class="tk">2.5</text>
<line x1="208.3" y1="306.6" x2="325.2" y2="306.6" class="gl"/>
<text x="202.8" y="308.4" class="tk">3.0</text>
<line x1="208.3" y1="297.45" x2="325.2" y2="297.45" class="gl"/>
<text x="202.8" y="299.25" class="tk">3.5</text>
<line x1="208.3" y1="288.3" x2="325.2" y2="288.3" class="gl"/>
<text x="202.8" y="290.1" class="tk">4.0</text>
<rect x="211.47" y="307.68" width="4.6" height="53.82" fill="#FF0000"/>
<rect x="211.47" y="294.29" width="4.6" height="13.39" fill="#00B050"/>
<text class="xl" transform="translate(215.87 365.1) rotate(-45)">BLCA</text>
<rect x="222.02" y="335.87" width="4.6" height="25.63" fill="#FF0000"/>
<rect x="222.02" y="332.45" width="4.6" height="3.42" fill="#0070C0"/>
<rect x="222.02" y="329.02" width="4.6" height="3.43" fill="#00B050"/>
<text class="xl" transform="translate(226.42 365.1) rotate(-45)">BRCA</text>
<rect x="232.56" y="336.85" width="4.6" height="24.65" fill="#00B050"/>
<text class="xl" transform="translate(236.96 365.1) rotate(-45)">COAD-READ</text>
<rect x="243.11" y="357.9" width="4.6" height="3.6" fill="#0070C0"/>
<text class="xl" transform="translate(247.51 365.1) rotate(-45)">KIRC</text>
<rect x="253.65" y="356.51" width="4.6" height="4.99" fill="#FF0000"/>
<text class="xl" transform="translate(258.05 365.1) rotate(-45)">LIHC</text>
<rect x="264.2" y="355.03" width="4.6" height="6.47" fill="#FF0000"/>
<rect x="264.2" y="342.54" width="4.6" height="12.49" fill="#00B050"/>
<text class="xl" transform="translate(268.6 365.1) rotate(-45)">LUAD</text>
<rect x="274.75" y="339.27" width="4.6" height="22.23" fill="#FF0000"/>
<rect x="274.75" y="330.12" width="4.6" height="9.15" fill="#00B050"/>
<text class="xl" transform="translate(279.15 365.1) rotate(-45)">OV</text>
<rect x="285.29" y="341.61" width="4.6" height="19.89" fill="#FF0000"/>
<text class="xl" transform="translate(289.69 365.1) rotate(-45)">PAAD</text>
<rect x="295.84" y="354.02" width="4.6" height="7.48" fill="#FF0000"/>
<text class="xl" transform="translate(300.24 365.1) rotate(-45)">PRAD</text>
<rect x="306.38" y="340.61" width="4.6" height="20.89" fill="#FF0000"/>
<rect x="306.38" y="302.83" width="4.6" height="37.78" fill="#00B050"/>
<text class="xl" transform="translate(310.78 365.1) rotate(-45)">STAD</text>
<rect x="316.93" y="351" width="4.6" height="10.5" fill="#FF0000"/>
<rect x="316.93" y="347.52" width="4.6" height="3.48" fill="#0070C0"/>
<rect x="316.93" y="302.32" width="4.6" height="45.2" fill="#00B050"/>
<text class="xl" transform="translate(321.33 365.1) rotate(-45)">UCEC</text>
<text class="tt" transform="translate(266.3 284.8) scale(0.95 1)">MYADM</text>
<text class="yl" transform="translate(190.1 324.5) rotate(-90)">Percentage of alterations (%)</text>
<text class="th" transform="translate(185.3 388.1) scale(0.88 1)">BLCA</text>
<text class="tr" transform="translate(185.3 394.85) scale(0.88 1)">12/408</text>
<text class="tb" transform="translate(185.3 401.8) scale(0.88 1)">0/408</text>
<text class="tg" transform="translate(185.3 408.8) scale(0.88 1)">3/410</text>
<text class="th" transform="translate(199.9 388.1) scale(0.88 1)">BRCA</text>
<text class="tr" transform="translate(199.9 394.85) scale(0.83 1)">15/1071</text>
<text class="tb" transform="translate(199.9 401.8) scale(0.88 1)">2/1071</text>
<text class="tg" transform="translate(199.9 408.8) scale(0.88 1)">2/1066</text>
<text class="th" transform="translate(214.5 388.1) scale(0.88 1)">COAD-</text>
<text class="tr" transform="translate(214.5 394.85) scale(0.88 1)">0/592</text>
<text class="tb" transform="translate(214.5 401.8) scale(0.88 1)">0/592</text>
<text class="tg" transform="translate(214.5 408.8) scale(0.88 1)">8/534</text>
<text class="th" transform="translate(229.1 388.1) scale(0.88 1)">KIRC</text>
<text class="tr" transform="translate(229.1 394.85) scale(0.88 1)">0/509</text>
<text class="tb" transform="translate(229.1 401.8) scale(0.88 1)">1/509</text>
<text class="tg" transform="translate(229.1 408.8) scale(0.88 1)">0/402</text>
<text class="th" transform="translate(243.7 388.1) scale(0.88 1)">LIHC</text>
<text class="tr" transform="translate(243.7 394.85) scale(0.88 1)">1/367</text>
<text class="tb" transform="translate(243.7 401.8) scale(0.88 1)">0/367</text>
<text class="tg" transform="translate(243.7 408.8) scale(0.88 1)">0/366</text>
<text class="th" transform="translate(258.3 388.1) scale(0.88 1)">LUAD</text>
<text class="tr" transform="translate(258.3 394.85) scale(0.88 1)">2/511</text>
<text class="tb" transform="translate(258.3 401.8) scale(0.88 1)">0/511</text>
<text class="tg" transform="translate(258.3 408.8) scale(0.88 1)">4/566</text>
<text class="th" transform="translate(272.9 388.1) scale(0.88 1)">OV</text>
<text class="tr" transform="translate(272.9 394.85) scale(0.88 1)">7/572</text>
<text class="tb" transform="translate(272.9 401.8) scale(0.88 1)">0/572</text>
<text class="tg" transform="translate(272.9 408.8) scale(0.88 1)">3/523</text>
<text class="th" transform="translate(287.5 388.1) scale(0.88 1)">PAAD</text>
<text class="tr" transform="translate(287.5 394.85) scale(0.88 1)">2/184</text>
<text class="tb" transform="translate(287.5 401.8) scale(0.88 1)">0/184</text>
<text class="tg" transform="translate(287.5 408.8) scale(0.88 1)">0/179</text>
<text class="th" transform="translate(302.1 388.1) scale(0.88 1)">PRAD</text>
<text class="tr" transform="translate(302.1 394.85) scale(0.88 1)">2/489</text>
<text class="tb" transform="translate(302.1 401.8) scale(0.88 1)">0/489</text>
<text class="tg" transform="translate(302.1 408.8) scale(0.88 1)">0/494</text>
<text class="th" transform="translate(316.7 388.1) scale(0.88 1)">STAD</text>
<text class="tr" transform="translate(316.7 394.85) scale(0.88 1)">5/438</text>
<text class="tb" transform="translate(316.7 401.8) scale(0.88 1)">0/438</text>
<text class="tg" transform="translate(316.7 408.8) scale(0.88 1)">9/436</text>
<text class="th" transform="translate(331.3 388.1) scale(0.88 1)">UCEC</text>
<text class="tr" transform="translate(331.3 394.85) scale(0.88 1)">3/523</text>
<text class="tb" transform="translate(331.3 401.8) scale(0.88 1)">1/523</text>
<text class="tg" transform="translate(331.3 408.8) scale(0.88 1)">13/517</text>
<line x1="30.8" y1="497.3" x2="152.1" y2="497.3" class="gl"/>
<text x="25.3" y="499.1" class="tk">0</text>
<line x1="30.8" y1="485.17" x2="152.1" y2="485.17" class="gl"/>
<text x="25.3" y="486.97" class="tk">1</text>
<line x1="30.8" y1="473.03" x2="152.1" y2="473.03" class="gl"/>
<text x="25.3" y="474.83" class="tk">2</text>
<line x1="30.8" y1="460.9" x2="152.1" y2="460.9" class="gl"/>
<text x="25.3" y="462.7" class="tk">3</text>
<line x1="30.8" y1="448.77" x2="152.1" y2="448.77" class="gl"/>
<text x="25.3" y="450.57" class="tk">4</text>
<line x1="30.8" y1="436.63" x2="152.1" y2="436.63" class="gl"/>
<text x="25.3" y="438.43" class="tk">5</text>
<line x1="30.8" y1="424.5" x2="152.1" y2="424.5" class="gl"/>
<text x="25.3" y="426.3" class="tk">6</text>
<rect x="34.17" y="476.48" width="4.6" height="20.82" fill="#FF0000"/>
<text class="xl" transform="translate(38.57 500.9) rotate(-45)">BLCA</text>
<rect x="45.12" y="453.12" width="4.6" height="44.18" fill="#FF0000"/>
<rect x="45.12" y="448.59" width="4.6" height="4.53" fill="#0070C0"/>
<text class="xl" transform="translate(49.52 500.9) rotate(-45)">BRCA</text>
<rect x="56.06" y="489.1" width="4.6" height="8.2" fill="#FF0000"/>
<rect x="56.06" y="487.05" width="4.6" height="2.05" fill="#0070C0"/>
<rect x="56.06" y="474.8" width="4.6" height="12.26" fill="#00B050"/>
<text class="xl" transform="translate(60.46 500.9) rotate(-45)">COAD-READ</text>
<rect x="67.01" y="494.92" width="4.6" height="2.38" fill="#FF0000"/>
<text class="xl" transform="translate(71.41 500.9) rotate(-45)">KIRC</text>
<rect x="77.95" y="444.4" width="4.6" height="52.9" fill="#FF0000"/>
<rect x="77.95" y="441.1" width="4.6" height="3.31" fill="#0070C0"/>
<rect x="77.95" y="437.78" width="4.6" height="3.32" fill="#00B050"/>
<text class="xl" transform="translate(82.35 500.9) rotate(-45)">LIHC</text>
<rect x="88.9" y="475.86" width="4.6" height="21.44" fill="#FF0000"/>
<text class="xl" transform="translate(93.3 500.9) rotate(-45)">LUAD</text>
<rect x="99.85" y="455.56" width="4.6" height="41.74" fill="#FF0000"/>
<rect x="99.85" y="451.56" width="4.6" height="4" fill="#0070C0"/>
<text class="xl" transform="translate(104.25 500.9) rotate(-45)">OV</text>
<rect x="110.79" y="490.71" width="4.6" height="6.59" fill="#FF0000"/>
<text class="xl" transform="translate(115.19 500.9) rotate(-45)">PAAD</text>
<rect x="121.74" y="492.34" width="4.6" height="4.96" fill="#FF0000"/>
<rect x="121.74" y="489.86" width="4.6" height="2.48" fill="#0070C0"/>
<text class="xl" transform="translate(126.14 500.9) rotate(-45)">PRAD</text>
<rect x="132.68" y="488.99" width="4.6" height="8.31" fill="#FF0000"/>
<rect x="132.68" y="486.22" width="4.6" height="2.77" fill="#0070C0"/>
<text class="xl" transform="translate(137.08 500.9) rotate(-45)">STAD</text>
<rect x="143.63" y="472.06" width="4.6" height="25.24" fill="#FF0000"/>
<rect x="143.63" y="456.05" width="4.6" height="16.02" fill="#00B050"/>
<text class="xl" transform="translate(148.03 500.9) rotate(-45)">UCEC</text>
<text class="tt" transform="translate(91 421) scale(0.95 1)">MYADML2</text>
<text class="yl" transform="translate(17 459.5) rotate(-90)">Percentage of alterations (%)</text>
<text class="th" transform="translate(10.9 524.5) scale(0.88 1)">BLCA</text>
<text class="tr" transform="translate(10.9 530.6) scale(0.88 1)">7/408</text>
<text class="tb" transform="translate(10.9 537.6) scale(0.88 1)">0/408</text>
<text class="tg" transform="translate(10.9 544.2) scale(0.88 1)">0/410</text>
<text class="th" transform="translate(25.5 524.5) scale(0.88 1)">BRCA</text>
<text class="tr" transform="translate(25.5 530.6) scale(0.83 1)">39/1071</text>
<text class="tb" transform="translate(25.5 537.6) scale(0.88 1)">4/1071</text>
<text class="tg" transform="translate(25.5 544.2) scale(0.88 1)">0/1066</text>
<text class="th" transform="translate(40.1 524.5) scale(0.88 1)">COAD-</text>
<text class="tr" transform="translate(40.1 530.6) scale(0.88 1)">4/592</text>
<text class="tb" transform="translate(40.1 537.6) scale(0.88 1)">1/592</text>
<text class="tg" transform="translate(40.1 544.2) scale(0.88 1)">6/534</text>
<text class="th" transform="translate(54.7 524.5) scale(0.88 1)">KIRC</text>
<text class="tr" transform="translate(54.7 530.6) scale(0.88 1)">1/509</text>
<text class="tb" transform="translate(54.7 537.6) scale(0.88 1)">0/509</text>
<text class="tg" transform="translate(54.7 544.2) scale(0.88 1)">0/402</text>
<text class="th" transform="translate(69.3 524.5) scale(0.88 1)">LIHC</text>
<text class="tr" transform="translate(69.3 530.6) scale(0.88 1)">16/367</text>
<text class="tb" transform="translate(69.3 537.6) scale(0.88 1)">1/367</text>
<text class="tg" transform="translate(69.3 544.2) scale(0.88 1)">1/366</text>
<text class="th" transform="translate(83.9 524.5) scale(0.88 1)">LUAD</text>
<text class="tr" transform="translate(83.9 530.6) scale(0.88 1)">10/511</text>
<text class="tb" transform="translate(83.9 537.6) scale(0.88 1)">0/511</text>
<text class="tg" transform="translate(83.9 544.2) scale(0.88 1)">0/566</text>
<text class="th" transform="translate(98.5 524.5) scale(0.88 1)">OV</text>
<text class="tr" transform="translate(98.5 530.6) scale(0.88 1)">20/572</text>
<text class="tb" transform="translate(98.5 537.6) scale(0.88 1)">2/572</text>
<text class="tg" transform="translate(98.5 544.2) scale(0.88 1)">0/523</text>
<text class="th" transform="translate(113.1 524.5) scale(0.88 1)">PAAD</text>
<text class="tr" transform="translate(113.1 530.6) scale(0.88 1)">1/184</text>
<text class="tb" transform="translate(113.1 537.6) scale(0.88 1)">0/184</text>
<text class="tg" transform="translate(113.1 544.2) scale(0.88 1)">0/179</text>
<text class="th" transform="translate(127.7 524.5) scale(0.88 1)">PRAD</text>
<text class="tr" transform="translate(127.7 530.6) scale(0.88 1)">2/489</text>
<text class="tb" transform="translate(127.7 537.6) scale(0.88 1)">1/489</text>
<text class="tg" transform="translate(127.7 544.2) scale(0.88 1)">0/494</text>
<text class="th" transform="translate(142.3 524.5) scale(0.88 1)">STAD</text>
<text class="tr" transform="translate(142.3 530.6) scale(0.88 1)">3/438</text>
<text class="tb" transform="translate(142.3 537.6) scale(0.88 1)">1/438</text>
<text class="tg" transform="translate(142.3 544.2) scale(0.88 1)">0/436</text>
<text class="th" transform="translate(156.9 524.5) scale(0.88 1)">UCEC</text>
<text class="tr" transform="translate(156.9 530.6) scale(0.88 1)">11/523</text>
<text class="tb" transform="translate(156.9 537.6) scale(0.88 1)">0/523</text>
<text class="tg" transform="translate(156.9 544.2) scale(0.88 1)">7/517</text>

<rect x="196.4" y="460.8" width="42" height="28.4" fill="#fff" stroke="#262626" stroke-width="0.7"/>
<rect x="200.6" y="464.9" width="4.6" height="4.6" fill="#FF0000"/>
<rect x="200.6" y="473.3" width="4.6" height="4.6" fill="#0070C0"/>
<rect x="200.6" y="480.8" width="4.6" height="4.6" fill="#00B050"/>
<text x="206.9" y="469.35" class="lg">Amplification</text>
<text x="206.9" y="477.45" class="lg">Deletion</text>
<text x="206.9" y="485.15" class="lg">Mutation</text>

</svg>
</body></html>
